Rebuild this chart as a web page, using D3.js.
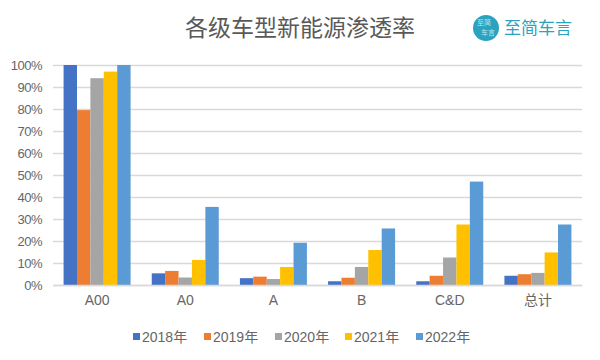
<!DOCTYPE html>
<html>
<head>
<meta charset="utf-8">
<script src="https://cdn.jsdelivr.net/npm/d3@7"></script>
<style>
html, body { margin: 0; padding: 0; background: #fff; }
text { font-family: "Liberation Sans", "Noto Sans CJK SC", sans-serif; }
</style>
</head>
<body>
<div id="chart"></div>
<script>
const categories = ["A00", "A0", "A", "B", "C&D", "总计"];
const years = ["2018年", "2019年", "2020年", "2021年", "2022年"];
const colors = ["#4472c4", "#ed7d31", "#a5a5a5", "#ffc000", "#5b9bd5"];
const yTicks = [0, 10, 20, 30, 40, 50, 60, 70, 80, 90, 100];

const s2018 = [100, 5.3, 3.1, 1.7, 1.7, 4.2];
const s2019 = [79.5, 6.4, 3.8, 3.3, 4.2, 4.9];
const s2020 = [94, 3.4, 2.7, 8.2, 12.5, 5.5];
const s2021 = [97, 11.4, 8.2, 15.9, 27.5, 14.8];
const s2022 = [100, 35.5, 19.2, 25.7, 47, 27.5];
const series = [s2018, s2019, s2020, s2021, s2022];

const width = 600;
const height = 360;

const svg = d3.select("#chart")
    .append("svg")
    .attr("width", width)
    .attr("height", height)
    .style("display", "block");

const xscale = d3.scaleBand()
    .domain(categories)
    .range([53, 582])
    .paddingInner(0.24)
    .paddingOuter(0.12);

const yscale = d3.scaleLinear()
    .domain([0, 100])
    .range([285, 65]);

const inner = d3.scaleBand()
    .domain(d3.range(years.length))
    .range([0, xscale.bandwidth()]);

// gridlines and tick labels
const y_axis = d3.axisLeft(yscale)
    .tickValues(yTicks)
    .tickFormat(d => d + "%")
    .tickSize(-(582 - 53))
    .tickPadding(11);

svg.append("g")
    .attr("transform", "translate(53, 0)")
    .call(y_axis)
    .call(g => g.select(".domain").remove())
    .call(g => g.selectAll("line").attr("stroke", "#d9d9d9").attr("stroke-width", 1.5))
    .call(g => g.selectAll("text")
        .attr("fill", "#666")
        .style("font-size", "13px")
        .style("letter-spacing", "-0.5px"));

// bars
series.forEach(function (values, i) {
    svg.append("g")
        .selectAll("rect")
        .data(values)
        .enter()
        .append("rect")
        .attr("x", (d, j) => xscale(categories[j]) + inner(i))
        .attr("y", d => yscale(d))
        .attr("width", inner.bandwidth())
        .attr("height", d => yscale(0) - yscale(d))
        .attr("fill", colors[i]);
});

const x_axis = d3.axisBottom(xscale)
    .tickSize(0)
    .tickPadding(10);

svg.append("g")
    .attr("transform", "translate(0, 285)")
    .call(x_axis)
    .call(g => g.select(".domain").attr("stroke", "#d9d9d9").attr("stroke-width", 1.5))
    .call(g => g.selectAll("text").attr("fill", "#666").style("font-size", "14px"));

svg.append("text")
    .attr("x", 300)
    .attr("y", 36)
    .attr("text-anchor", "middle")
    .attr("fill", "#595959")
    .style("font-size", "23px")
    .text("各级车型新能源渗透率");

// legend
const legendX = [133, 204, 275, 345, 416];
const legend = svg.append("g");
years.forEach(function (y, i) {
    legend.append("rect")
        .attr("x", legendX[i])
        .attr("y", 333)
        .attr("width", 7)
        .attr("height", 7)
        .attr("fill", colors[i]);
    legend.append("text")
        .attr("x", legendX[i] + 9)
        .attr("y", 342)
        .attr("fill", "#666")
        .style("font-size", "14px")
        .text(y);
});

// logo
const logo = svg.append("g");
logo.append("circle")
    .attr("cx", 486)
    .attr("cy", 28)
    .attr("r", 13)
    .attr("fill", "#2ba3c0");
logo.append("text")
    .attr("x", 484)
    .attr("y", 25)
    .attr("text-anchor", "middle")
    .attr("fill", "#bfe6ef")
    .style("font-size", "7px")
    .text("至简");
logo.append("text")
    .attr("x", 488)
    .attr("y", 35)
    .attr("text-anchor", "middle")
    .attr("fill", "#bfe6ef")
    .style("font-size", "7px")
    .text("车言");
logo.append("text")
    .attr("x", 504)
    .attr("y", 34)
    .attr("fill", "#2ba3c0")
    .style("font-size", "17px")
    .text("至简车言");
</script>
</body>
</html>
